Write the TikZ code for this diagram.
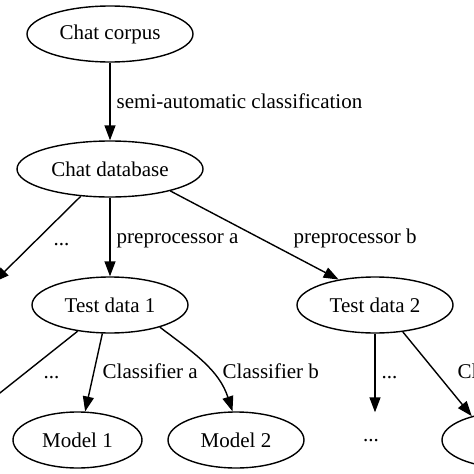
\documentclass[tikz,border=0pt]{standalone}
\usepackage{fontspec}
\setmainfont{Liberation Serif}
\usetikzlibrary{shapes.geometric,arrows.meta}
\tikzset{
  every picture/.style={line width=1.4pt},
  ell/.style={draw, ellipse, inner sep=0pt, minimum height=56pt, font=\fontsize{21}{25}\selectfont},
  lab/.style={inner sep=0pt, anchor=base west, font=\fontsize{21}{25}\selectfont},
  plain/.style={inner sep=0pt, minimum height=56pt, font=\fontsize{21}{25}\selectfont},
  edge/.style={draw, -{Triangle[length=15pt,width=11pt]}},
}
\begin{document}
\begin{tikzpicture}[x=1pt,y=-1pt]
\useasboundingbox (0,0) rectangle (474,474);
\clip (0,0) rectangle (474,474);
\fill[white] (0,0) rectangle (474,474);
% nodes
\node[ell, minimum width=166pt] (cc) at (110,34) {Chat corpus};
\node[ell, minimum width=186pt] (cd) at (110,169) {Chat database};
\node[ell, minimum width=156pt] (td1) at (110,305) {Test data 1};
\node[ell, minimum width=156pt] (td2) at (375,305) {Test data 2};
\node[ell, minimum width=129pt] (m1) at (77.5,440) {Model 1};
\node[ell, minimum width=136pt] (m2) at (236,440) {Model 2};
\node[ell, minimum width=136pt] (m3) at (510,440) {Model 3};
\node[plain] (dd) at (371,441) {...};
\coordinate (lo1) at (-6,282);
\coordinate (lo2) at (-24,412);
% edges
\draw[edge] (cc.south) -- (cd.north);
\draw[edge] (cd.-137) -- (lo1);
\draw[edge] (cd.south) -- (td1.north);
\draw[edge] (cd.-20) -- (td2.145);
\draw[edge] (td1.-141) -- (lo2);
\draw[edge] (td1.255) -- (m1.75);
\draw[edge] (td1.-24) to[out=-37,in=108] (m2.97);
\draw[edge] (td2.south) -- (td2.south |- dd.north);
\draw[edge] (td2.-44) -- (m3.148);
% labels
\node[lab] (l0) at (116,108) {semi-automatic classification};
\node[lab] (l1) at (53,245) {...};
\node[lab] (l2) at (116,243) {preprocessor a};
\node[lab] (l3) at (293,243) {preprocessor b};
\node[lab] (l4) at (43,378) {...};
\node[lab] (l5) at (102,378) {Classifier a};
\node[lab] (l6) at (222,378) {Classifier b};
\node[lab] (l7) at (381,378) {...};
\node[lab] (l8) at (457,378) {Classifier a};
\end{tikzpicture}
\end{document}
